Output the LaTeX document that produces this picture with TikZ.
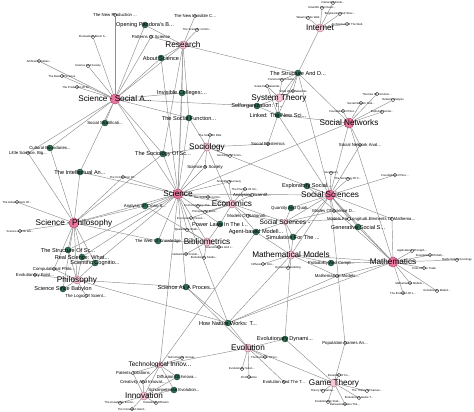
\documentclass[tikz,border=0pt]{standalone}
\usepackage{fontspec}
\setmainfont{Liberation Sans}
\usepackage{tikz}
\usetikzlibrary{backgrounds}
\definecolor{hubpink}{HTML}{E8769E}
\definecolor{hubrim}{HTML}{B04A72}
\definecolor{lightpink}{HTML}{F4C8D6}
\definecolor{lightrim}{HTML}{C07890}
\definecolor{topicgreen}{HTML}{2F6E52}
\definecolor{topicrim}{HTML}{1C4434}
\definecolor{leafrim}{HTML}{3E4A44}
\definecolor{edgegray}{HTML}{8E8E8E}

\begin{document}
\begin{tikzpicture}[
    x=1pt, y=-1pt,
    hub/.style={circle, draw=hubrim, fill=hubpink, line width=0.5pt, minimum size=10pt, inner sep=0pt},
    subhub/.style={circle, draw=lightrim, fill=lightpink, line width=0.5pt, minimum size=8pt, inner sep=0pt},
    topic/.style={circle, draw=topicrim, fill=topicgreen, line width=0.4pt, minimum size=6pt, inner sep=0pt},
    leaf/.style={circle, draw=leafrim, fill=gray!12, line width=0.4pt, minimum size=3.6pt, inner sep=0pt},
    hublab/.style={font=\fontsize{8.2}{8}\selectfont, inner sep=0pt},
    midlab/.style={font=\fontsize{6.6}{7}\selectfont, inner sep=0pt},
    toplab/.style={font=\fontsize{5.6}{6}\selectfont, inner sep=0pt},
    smalllab/.style={font=\fontsize{4.3}{5}\selectfont, inner sep=0pt},
    tinylab/.style={font=\fontsize{2.8}{3}\selectfont, inner sep=0pt},
    edge/.style={draw=edgegray, line width=0.45pt},
]
\useasboundingbox (0,0) rectangle (474,412);
% main hubs
\node[hub, label={[hublab]center:{Science - Social A...}}] (scisoc) at (115,99) {};
\node[hub, label={[hublab]center:{Science}}] (sci) at (178,194) {};
\node[hub, label={[hublab]center:{Science - Philosophy}}] (sciphil) at (74,223) {};
\node[hub, label={[hublab]center:{Social Networks}}] (socnet) at (349,123) {};
\node[hub, label={[hublab]center:{Social Sciences}}] (socsci) at (330,195) {};
\node[hub, label={[hublab]center:{Mathematics}}] (math) at (393,262) {};
% smaller hubs
\node[subhub, label={[hublab]center:{Research}}] (res) at (183,45) {};
\node[subhub, label={[hublab]center:{Internet}}] (inet) at (320,28) {};
\node[subhub, label={[hublab]center:{System Theory}}] (sysT) at (279,98) {};
\node[subhub, label={[hublab]center:{Sociology}}] (socio) at (207,147) {};
\node[subhub, label={[hublab]center:{Economics}}] (econ) at (232,204) {};
\node[subhub, label={[hublab]center:{Bibliometrics}}] (biblio) at (207,242) {};
\node[subhub, label={[hublab]center:{Philosophy}}] (phil) at (77,280) {};
\node[subhub, label={[hublab]center:{Mathematical Models}}] (mathmod) at (291,255) {};
\node[subhub, label={[hublab]center:{Evolution}}] (evo) at (248,348) {};
\node[subhub, label={[hublab]center:{Game Theory}}] (game) at (334,383) {};
\node[subhub, label={[hublab]center:{Innovation}}] (innov) at (144,396) {};
\node[subhub, minimum size=5pt, label={[midlab]center:{Social Sciences -}}] (socsci2) at (285,222) {};
\node[subhub, minimum size=5pt, label={[midlab]center:{Technological Innov...}}] (techinn) at (160,365) {};
% topic nodes
\node[topic, label={[toplab]center:{Opening Pandora's B...}}] (pandora) at (145,25) {};
\node[topic, label={[toplab]center:{About Science}}] (about) at (161,58) {};
\node[topic, label={[toplab]center:{Invisible Colleges:...}}] (invis) at (182,93) {};
\node[topic, label={[toplab]center:{The Social Function...}}] (socfunc) at (189,118) {};
\node[topic, label={[toplab]center:{The Sociology Of Sc...}}] (socofsc) at (163,154) {};
\node[topic, label={[toplab]center:{The Structure And D...}}] (strucD) at (298,73) {};
\node[topic, label={[toplab]center:{Selforganization: T...}}] (selforg) at (257,106) {};
\node[topic, label={[toplab]center:{Linked: The New Sci...}}] (linked) at (278,115) {};
\node[topic, label={[toplab]center:{The Intellectual An...}}] (intell) at (80,172) {};
\node[topic, label={[smalllab]center:{Cultural Boundaries...}}] (cultural) at (50,148) {};
\node[topic, label={[smalllab]center:{Social Stratificati...}}] (socstrat) at (105,123) {};
\node[topic, label={[smalllab]center:{Analysis Of Cross-S...}}] (cross) at (145,206) {};
\node[topic, label={[smalllab]center:{The Web Of Knowledge}}] (webknow) at (158,241) {};
\node[topic, label={[toplab]center:{The Structure Of Sc...}}] (strucSc) at (68,250) {};
\node[topic, label={[toplab]center:{Real Science: What...}}] (realsci) at (82,257) {};
\node[topic, label={[toplab]center:{Scientific Cognitio...}}] (scicog) at (95,263) {};
\node[topic, label={[toplab]center:{Science Since Babylon}}] (babylon) at (63,289) {};
\node[topic, label={[toplab]center:{Power Laws In The I...}}] (powlaw) at (220,224) {};
\node[topic, label={[toplab]center:{Agent-based Modell...}}] (agent) at (256,232) {};
\node[topic, label={[toplab]center:{Simulation For The ...}}] (simul) at (293,237) {};
\node[topic, label={[toplab]center:{Exploratory Social...}}] (explor) at (307,186) {};
\node[topic, label={[smalllab]center:{Quantity And Quali...}}] (quant) at (291,208) {};
\node[topic, label={[toplab]center:{Generative Social S...}}] (generat) at (358,227) {};
\node[topic, label={[toplab]center:{Science As A Proces...}}] (procss) at (186,287) {};
\node[topic, label={[toplab]center:{How Nature Works: T...}}] (hownat) at (228,323) {};
\node[topic, label={[toplab]center:{Evolutionary Dynami...}}] (evodyn) at (285,339) {};
\node[topic, label={[smalllab]center:{Schumpeterian Evolution...}}] (schump) at (174,390) {};
\node[topic, label={[smalllab]center:{Diffusion Of Innova...}}] (diffinn) at (177,377) {};
\node[topic, label={[smalllab]center:{Probability And Compl...}}] (probab) at (331,263) {};
% leaf nodes, top left
\node[leaf, label={[smalllab]center:{The New Production ...}}] (newprod) at (115,15) {};
\node[leaf, label={[smalllab]center:{Patterns Of Science}}] (patterns) at (151,37) {};
\node[leaf, label={[tinylab]center:{Fluctuations Boom S...}}] (fluct) at (93,37) {};
\node[leaf, label={[tinylab]center:{Artificial Societies...}}] (artif) at (39,61) {};
\node[leaf, label={[tinylab]center:{Science And Society}}] (sciandsoc) at (88,66) {};
\node[leaf, label={[tinylab]center:{The Basis Of Science}}] (basis) at (62,76) {};
\node[leaf, label={[tinylab]center:{The Production Of Kn...}}] (prodknow) at (77,87) {};
\node[leaf, label={[smalllab]center:{Little Science, Big...}}] (littlesci) at (28,153) {};
\node[leaf, label={[tinylab]center:{The Advancement Of...}}] (advance) at (17,202) {};
\node[leaf, label={[tinylab]center:{Science And Its Wa...}}] (sciwar) at (20,231) {};
\node[leaf, label={[tinylab]center:{The Constitution Of...}}] (constit) at (123,177) {};
\node[leaf, label={[smalllab]center:{Computational Philo...}}] (compphil) at (54,269) {};
\node[leaf, label={[smalllab]center:{Evolutionary Epist...}}] (evoepist) at (35,275) {};
\node[leaf, label={[smalllab]center:{The Logic Of Scient...}}] (logic) at (86,296) {};
% leaf nodes, top middle and internet
\node[leaf, label={[smalllab]center:{The New Invisible C...}}] (newinvis) at (195,16) {};
\node[leaf, label={[tinylab]center:{The Scientific Comm...}}] (scicomm) at (197,30) {};
\node[leaf, label={[tinylab]center:{Constructing Knowle...}}] (construct) at (282,80) {};
\node[leaf, label={[tinylab]center:{Scale-free Networks}}] (scalefree) at (267,86) {};
\node[leaf, label={[tinylab]center:{Small World Networks}}] (smallworld) at (293,91) {};
\node[leaf, label={[tinylab]center:{Interactive Evolu...}}] (inetA) at (333,3) {};
\node[leaf, label={[tinylab]center:{Scientific Communic...}}] (inetB) at (322,8) {};
\node[leaf, label={[tinylab]center:{Engineering And Struc...}}] (inetC) at (340,14) {};
\node[leaf, label={[tinylab]center:{Weaving The Web}}] (inetD) at (308,18) {};
\node[leaf, label={[tinylab]center:{Architecture Of The Web}}] (inetE) at (347,24) {};
% leaf nodes round the social networks
\node[leaf, label={[tinylab]center:{Theories Of Commun...}}] (theocomm) at (377,94) {};
\node[leaf, label={[tinylab]center:{Network Analysis}}] (netanal) at (393,100) {};
\node[leaf, label={[tinylab]center:{Social Network Anal...}}] (snawhat) at (361,103) {};
\node[leaf, label={[tinylab]center:{Foundations Of Soc...}}] (foundsoc) at (343,111) {};
\node[leaf, label={[tinylab]center:{Exploring Social...}}] (exploring) at (382,112) {};
\node[leaf, label={[smalllab]center:{Social Network Anal...}}] (sna) at (360,145) {};
% leaf nodes, centre
\node[leaf, label={[tinylab]center:{The Scientific Elite}}] (scielite) at (210,135) {};
\node[leaf, label={[smalllab]center:{Social Epistemics}}] (socepist) at (268,144) {};
\node[leaf, label={[smalllab]center:{Science In Society}}] (sciinsoc) at (205,167) {};
\node[leaf, label={[tinylab]center:{Sociology Of Scien...}}] (sociolof) at (230,156) {};
\node[leaf, label={[tinylab]center:{Scientific Discovery}}] (scidisc) at (229,182) {};
\node[leaf, label={[tinylab]center:{The Practice Of Sci...}}] (practice) at (245,189) {};
\node[leaf, label={[smalllab]center:{Analysing Scientif...}}] (analysing) at (252,195) {};
\node[leaf, label={[tinylab]center:{The Scientific Comm...}}] (scicommB) at (208,197) {};
\node[leaf, label={[tinylab]center:{An Evolutionary The...}}] (evoecon) at (198,206) {};
\node[leaf, label={[tinylab]center:{Principles Of Econ...}}] (princ) at (205,212) {};
\node[leaf, label={[tinylab]center:{Economics Of Scien...}}] (econsc) at (191,218) {};
\node[leaf, label={[smalllab]center:{Models Of Rationali...}}] (models) at (248,216) {};
\node[leaf, label={[tinylab]center:{Quantitative Studi...}}] (quantstud) at (187,230) {};
\node[leaf, label={[tinylab]center:{Scientometrics And I...}}] (scientom) at (219,247) {};
\node[leaf, label={[tinylab]center:{Networks Of Scienti...}}] (netsci) at (186,254) {};
\node[leaf, label={[tinylab]center:{Evolutionary Studie...}}] (evosci) at (204,258) {};
\node[leaf, label={[tinylab]center:{Diffusion Of Kno...}}] (diffknow) at (263,264) {};
\node[leaf, label={[tinylab]center:{Dynamical Modeling}}] (dynmod) at (288,268) {};
\node[leaf, label={[smalllab]center:{Mathematical Models...}}] (mathmodB) at (337,276) {};
% leaf nodes, right
\node[leaf, label={[tinylab]center:{Sociometry}}] (sociometry) at (331,173) {};
\node[leaf, label={[tinylab]center:{The Sociology Of C...}}] (socofC) at (348,179) {};
\node[leaf, label={[tinylab]center:{Foundations Of Soc...}}] (foundsocB) at (395,175) {};
\node[leaf, label={[smalllab]center:{Modes Of Science D...}}] (modesSci) at (334,211) {};
\node[leaf, label={[smalllab]center:{Models For Longitudi...}}] (longit) at (349,219) {};
\node[leaf, label={[smalllab]center:{Elements Of Mathema...}}] (elemmath) at (392,219) {};
\node[leaf, label={[tinylab]center:{Applications Of Graph...}}] (appgraph) at (412,251) {};
\node[leaf, label={[tinylab]center:{Foundations Of Math...}}] (foundmath) at (430,255) {};
\node[leaf, label={[tinylab]center:{Mathematical Sociology}}] (mathsocio) at (457,260) {};
\node[leaf, label={[tinylab]center:{Tools Of The Trade}}] (tools) at (424,268) {};
\node[leaf, label={[tinylab]center:{Mathematical Models...}}] (mathmodC) at (410,283) {};
\node[leaf, label={[tinylab]center:{Evolutionary Modeli...}}] (evomodel) at (437,291) {};
\node[leaf, label={[tinylab]center:{The Evolution Of L...}}] (evolang) at (403,293) {};
% leaf nodes, evolution and game theory
\node[leaf, label={[tinylab]center:{The Evolution Of Sci...}}] (evoscient) at (265,357) {};
\node[leaf, label={[tinylab]center:{Evolutionary Scien...}}] (evoscienB) at (242,369) {};
\node[leaf, label={[tinylab]center:{On Evolution}}] (onevo) at (249,377) {};
\node[leaf, label={[smalllab]center:{Evolution And The T...}}] (evoandT) at (284,382) {};
\node[leaf, label={[smalllab]center:{Population Games An...}}] (popgame) at (345,343) {};
\node[leaf, label={[tinylab]center:{Evolution Of Co...}}] (evocoop) at (339,375) {};
\node[leaf, label={[tinylab]center:{The Theory Of Games...}}] (theogames) at (367,391) {};
\node[leaf, label={[tinylab]center:{Evolutionary Game T...}}] (evogameT) at (359,398) {};
\node[leaf, label={[tinylab]center:{Theory Of Games...}}] (gamesB) at (323,391) {};
\node[leaf, label={[tinylab]center:{Evolutionarily Stab...}}] (evostable) at (328,402) {};
\node[leaf, label={[tinylab]center:{Behavioral Game The...}}] (behav) at (345,404) {};
% leaf nodes, innovation
\node[leaf, label={[tinylab]center:{Technological Innovat...}}] (techinnB) at (182,358) {};
\node[leaf, label={[smalllab]center:{Patents, Citations}}] (patents) at (133,373) {};
\node[leaf, label={[smalllab]center:{Creativity And Innovat...}}] (creat) at (143,382) {};
\node[leaf, label={[tinylab]center:{The Knowledge Econo...}}] (knoweco) at (120,403) {};
\node[leaf, label={[tinylab]center:{Knowledge Diffusion}}] (knowdiff) at (156,403) {};
\node[leaf, label={[tinylab]center:{The Innovation Hand...}}] (innovhand) at (132,409) {};
% connectors
\begin{scope}[on background layer]
\foreach \a/\b in {scisoc/newprod, scisoc/pandora, scisoc/patterns, scisoc/fluct, scisoc/artif,
    scisoc/sciandsoc, scisoc/basis, scisoc/prodknow, scisoc/about, scisoc/invis, scisoc/socstrat,
    scisoc/res, scisoc/cultural, scisoc/littlesci, scisoc/intell, scisoc/sci, scisoc/selforg,
    scisoc/socofsc, scisoc/socfunc,
    res/pandora, res/patterns, res/about, res/newinvis, res/scicomm, res/invis, res/socfunc,
    res/sci, res/strucD, res/socofsc,
    sci/socio, sci/sciinsoc, sci/socofsc, sci/socfunc, sci/invis, sci/intell, sci/constit,
    sci/cross, sci/webknow, sci/biblio, sci/econ, sci/powlaw, sci/procss, sci/sciphil,
    sci/strucSc, sci/realsci, sci/scicog, sci/scicommB, sci/scidisc, sci/quantstud,
    sci/techinn, sci/socnet, sci/socsci, sci/hownat, sci/about,
    sciphil/cultural, sciphil/littlesci, sciphil/intell, sciphil/advance, sciphil/sciwar,
    sciphil/strucSc, sciphil/realsci, sciphil/scicog, sciphil/compphil, sciphil/phil,
    sciphil/babylon, sciphil/constit, sciphil/cross, sciphil/webknow, sciphil/socofsc,
    phil/evoepist, phil/compphil, phil/babylon, phil/logic, phil/strucSc, phil/realsci,
    phil/scicog, phil/hownat, phil/procss,
    socio/scielite, socio/socofsc, socio/sciinsoc, socio/socepist, socio/sociolof,
    socio/socfunc, socio/socsci, socio/econ,
    econ/scidisc, econ/practice, econ/analysing, econ/evoecon, econ/princ, econ/econsc,
    econ/models, econ/powlaw, econ/agent, econ/socsci2, econ/scicommB,
    biblio/quantstud, biblio/scientom, biblio/netsci, biblio/evosci, biblio/webknow,
    biblio/powlaw, biblio/cross,
    sysT/strucD, sysT/selforg, sysT/linked, sysT/construct, sysT/scalefree, sysT/smallworld,
    inet/inetA, inet/inetB, inet/inetC, inet/inetD, inet/inetE, inet/strucD,
    strucD/socnet, strucD/linked, strucD/socsci, strucD/construct, strucD/smallworld,
    linked/socnet, linked/selforg, linked/scalefree, linked/socsci, linked/socepist,
    socnet/theocomm, socnet/netanal, socnet/snawhat, socnet/foundsoc, socnet/exploring,
    socnet/sna, socnet/socsci, socnet/math,
    socsci/sna, socsci/sociometry, socsci/socofC, socsci/foundsocB, socsci/explor,
    socsci/modesSci, socsci/longit, socsci/generat, socsci/quant, socsci/socsci2,
    socsci/simul, socsci/math, socsci/mathmod, socsci/elemmath, socsci/popgame,
    socsci2/quant, socsci2/agent, socsci2/simul, socsci2/models, socsci2/mathmod,
    socsci2/modesSci, socsci2/longit,
    mathmod/simul, mathmod/agent, mathmod/diffknow, mathmod/dynmod, mathmod/probab,
    mathmod/mathmodB, mathmod/evodyn, mathmod/math, mathmod/hownat,
    math/elemmath, math/generat, math/appgraph, math/foundmath, math/mathsocio, math/tools,
    math/mathmodC, math/evomodel, math/evolang, math/probab, math/explor, math/hownat,
    math/mathmodB,
    evo/evoscient, evo/evoscienB, evo/onevo, evo/evoandT, evo/evodyn, evo/hownat, evo/procss,
    evo/game, evo/techinn,
    game/evocoop, game/theogames, game/evogameT, game/gamesB, game/evostable, game/behav,
    game/popgame, game/evodyn,
    innov/techinn, innov/patents, innov/creat, innov/diffinn, innov/schump, innov/knoweco,
    innov/knowdiff, innov/innovhand,
    techinn/techinnB, techinn/patents, techinn/diffinn, techinn/schump, techinn/agent,
    techinn/creat, hownat/procss, hownat/mathmodB}
    \draw[edge] (\a) -- (\b);
\end{scope}
\end{tikzpicture}
\end{document}
